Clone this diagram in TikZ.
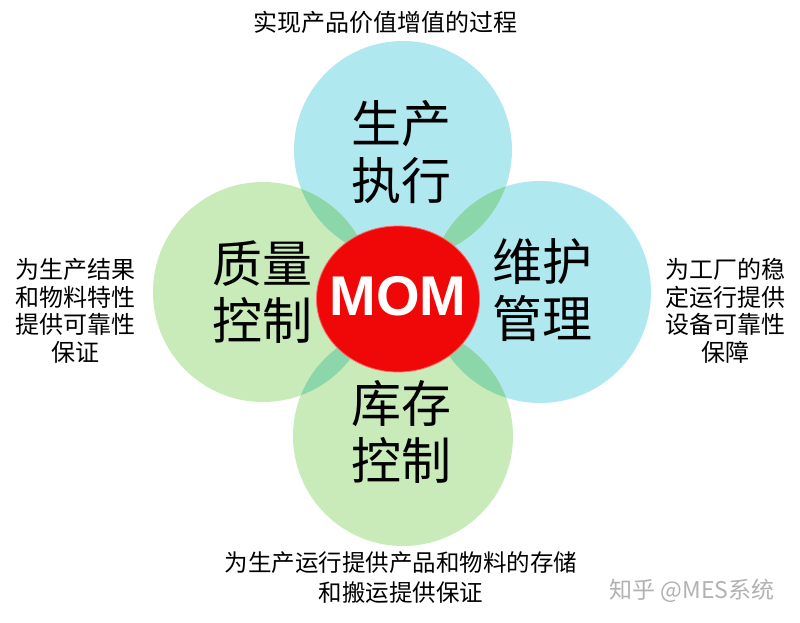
\documentclass[tikz,border=0pt]{standalone}
\usepackage{fontspec}
\usetikzlibrary{shapes.geometric}
\setmainfont{Noto Sans CJK SC}
\newfontfamily\momfont{Liberation Sans}
\definecolor{cblue}{HTML}{B0E8F0}
\definecolor{cgreen}{HTML}{C8EBB9}
\definecolor{clens}{HTML}{8CD7AA}
\definecolor{cred}{HTML}{F00808}
\begin{document}
\begin{tikzpicture}[x=1pt,y=-1pt,
  bigtext/.style={font=\fontsize{50}{57}\selectfont, align=center, text=black, inner sep=0pt},
  sidetext/.style={font=\fontsize{24}{27.5}\selectfont, align=center, text=black, inner sep=0pt},
  lens/.style={fill=clens}]
\useasboundingbox (0,0) rectangle (800,623);
\fill[white] (0,0) rectangle (800,623);
% circles
\fill[cblue] (403,150) circle (109);
\fill[cblue] (540,292) circle (111);
\fill[cgreen] (263,292) circle (110);
\fill[cgreen] (403,436) circle (110);
% overlaps
\begin{scope}
  \clip (403,150) circle (109);
  \fill[lens] (263,292) circle (110);
  \fill[lens] (540,292) circle (111);
\end{scope}
\begin{scope}
  \clip (403,436) circle (110);
  \fill[lens] (263,292) circle (110);
  \fill[lens] (540,292) circle (111);
\end{scope}
% centre
\node[ellipse, fill=cred, draw=red!60!white, line width=0.8pt, minimum width=163pt, minimum height=146pt, inner sep=0pt] (mom) at (398,299) {};
\node[font=\momfont\bfseries\fontsize{56}{60}\selectfont, text=white, inner sep=0pt] (momt) at (398,296) {MOM};
% circle labels
\node[bigtext] (prod) at (401,152) {生产\\执行};
\node[bigtext] (qual) at (262,292) {质量\\控制};
\node[bigtext] (main) at (542,290) {维护\\管理};
\node[bigtext] (inv) at (401,432) {库存\\控制};
% outer labels
\node[font=\fontsize{24}{28}\selectfont, inner sep=0pt] (ttop) at (385,22) {实现产品价值增值的过程};
\node[sidetext] (tleft) at (75,311) {为生产结果\\和物料特性\\提供可靠性\\保证};
\node[sidetext] (tright) at (725,311) {为工厂的稳\\定运行提供\\设备可靠性\\保障};
\node[font=\fontsize{23.5}{30}\selectfont, align=center, inner sep=0pt] (tbot) at (401,578) {为生产运行提供产品和物料的存储\\和搬运提供保证};
\node[font=\fontsize{23}{26}\selectfont, text=black!30, inner sep=0pt] (wm) at (692,591) {知乎 @MES系统};
\end{tikzpicture}
\end{document}
